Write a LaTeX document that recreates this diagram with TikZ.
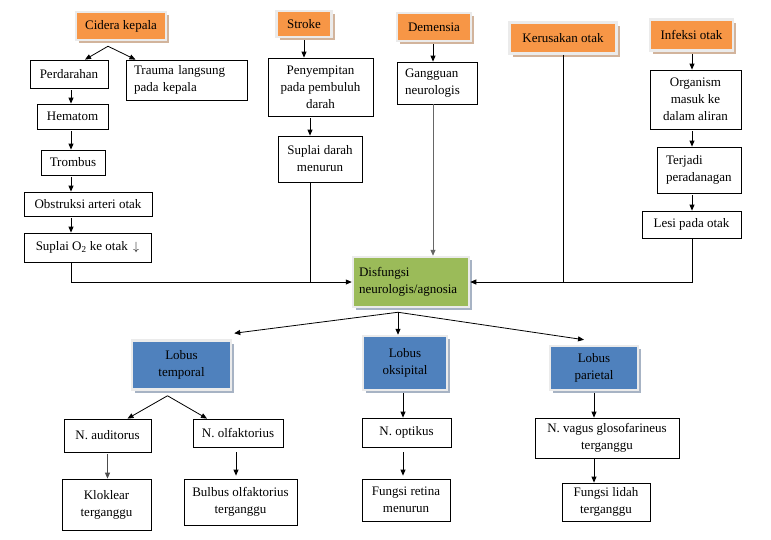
\documentclass[tikz,border=0pt]{standalone}
\usepackage{fontspec}
\setmainfont{Liberation Serif}
\usetikzlibrary{calc,arrows.meta,shadows}

\definecolor{oranye}{HTML}{F79646}
\definecolor{hijau}{HTML}{9BBB59}
\definecolor{biru}{HTML}{4F81BD}
\definecolor{bayangoranye}{HTML}{D2B49C}
\definecolor{bayangbiru}{HTML}{A7B3C4}

\begin{document}
\begin{tikzpicture}[x=1pt,y=-1pt,
 every node/.style={font=\fontsize{13}{17}\selectfont, inner sep=2pt},
 kotak/.style={draw, line width=0.8pt, align=center},
 warna/.style 2 args={fill=#1, draw=black!8, line width=2.5pt, align=center,
   drop shadow={shadow xshift=3pt,shadow yshift=-3pt,fill=#2,opacity=1}},
 panah/.style={-{Triangle[length=6pt,width=5pt]}, line width=0.8pt, shorten <=2pt},
 garis/.style={line width=0.8pt}]

\useasboundingbox (0,0) rectangle (771,539);

% sebab
\node[warna={oranye}{bayangoranye}, minimum width=90, minimum height=28] (cid) at (121,26) {Cidera kepala};
\node[warna={oranye}{bayangoranye}, minimum width=55, minimum height=26] (strk) at (304,24) {Stroke};
\node[warna={oranye}{bayangoranye}, minimum width=74, minimum height=28] (dem) at (434,27) {Demensia};
\node[warna={oranye}{bayangoranye}, minimum width=107, minimum height=31] (rus) at (563,38) {Kerusakan otak};
\node[warna={oranye}{bayangoranye}, minimum width=83, minimum height=31] (inf) at (691.5,35) {Infeksi otak};

% cidera kepala
\node[kotak, minimum width=78, minimum height=28] (perd) at (69,74) {Perdarahan};
\node[kotak, align=left, text width=105, inner xsep=8, minimum height=40] (trau) at (186.5,80)
 {Trauma langsung\\pada kepala};
\node[kotak, minimum width=71, minimum height=25] (hema) at (72.5,116.5) {Hematom};
\node[kotak, minimum width=64, minimum height=25] (trom) at (73,162.5) {Trombus};
\node[kotak, minimum width=128, minimum height=24] (obs) at (88,204) {Obstruksi arteri otak};
\node[kotak, minimum width=127, minimum height=29] (supO) at (87.5,247.5)
 {Suplai O\textsubscript{2} ke otak \,$\downarrow$};

% stroke
\node[kotak, minimum width=105, minimum height=58] (peny) at (320.5,87)
 {Penyempitan\\pada pembuluh\\darah};
\node[kotak, minimum width=84, minimum height=46] (supD) at (320,159) {Suplai darah\\menurun};

% demensia
\node[kotak, align=left, text width=64, inner xsep=8, minimum height=42] (gang) at (437,83)
 {Gangguan\\neurologis};

% infeksi
\node[kotak, minimum width=91, minimum height=59] (org) at (695.5,99.5) {Organism\\masuk ke\\dalam aliran};
\node[kotak, align=left, text width=66, inner xsep=9, minimum height=46] (terj) at (699,170)
 {Terjadi\\peradanagan};
\node[kotak, minimum width=99, minimum height=27] (lesi) at (691.5,224.5) {Lesi pada otak};

% tengah
\node[warna={hijau}{bayangbiru}, align=left, text width=104, inner xsep=6, minimum height=50] (dis) at (411,282)
 {Disfungsi\\neurologis/agnosia};

% lobus
\node[warna={biru}{bayangbiru}, minimum width=99, minimum height=49] (temp) at (181.5,365) {Lobus\\temporal};
\node[warna={biru}{bayangbiru}, minimum width=84, minimum height=54] (oks) at (405,363) {Lobus\\oksipital};
\node[warna={biru}{bayangbiru}, minimum width=88, minimum height=44] (par) at (594,368) {Lobus\\parietal};

% akibat
\node[kotak, minimum width=87, minimum height=33] (aud) at (107.5,435.5) {N. auditorus};
\node[kotak, minimum width=90, minimum height=28] (olf) at (238,433) {N. olfaktorius};
\node[kotak, minimum width=89, minimum height=51] (klo) at (106.5,504.5) {Kloklear\\terganggu};
\node[kotak, minimum width=113, minimum height=46] (bulb) at (240.5,502) {Bulbus olfaktorius\\terganggu};
\node[kotak, minimum width=89, minimum height=29] (opt) at (406.5,432.5) {N. optikus};
\node[kotak, minimum width=88, minimum height=42] (ret) at (406,500) {Fungsi retina\\menurun};
\node[kotak, minimum width=144, minimum height=40] (vag) at (607,438) {N. vagus glosofarineus\\terganggu};
\node[kotak, minimum width=88, minimum height=38] (lid) at (606,502) {Fungsi lidah\\terganggu};

% garis bantu
\coordinate (kiri) at (71,0);
\coordinate (tgh) at (310,0);
\coordinate (dmn) at (433,0);
\coordinate (knn) at (692,0);
\coordinate (okx) at (403,0);
\coordinate (cidB) at ($(cid.south)+(-13,5)$);
\coordinate (disB) at ($(dis.south)+(-13,4)$);
\coordinate (tmpB) at ($(temp.south)+(-14,5)$);

% cidera kepala
\draw[panah, shorten <=0pt] (cidB) -- ($(perd.north)+(16,0)$);
\draw[panah, shorten <=0pt] (cidB) -- ($(trau.north)+(-51,0)$);
\draw[panah] (kiri |- perd.south) -- (kiri |- hema.north);
\draw[panah] (kiri |- hema.south) -- (kiri |- trom.north);
\draw[panah] (kiri |- trom.south) -- (kiri |- obs.north);
\draw[panah] (kiri |- obs.south) -- (kiri |- supO.north);
\draw[panah, shorten <=0pt] (kiri |- supO.south) |- (dis.west);

% stroke
\draw[panah] (strk.south) -- (strk.south |- peny.north);
\draw[panah] (tgh |- peny.south) -- (tgh |- supD.north);
\draw[garis] (tgh |- supD.south) -- (tgh |- dis.west);

% demensia
\draw[panah] (dmn |- dem.south) -- (dmn |- gang.north);
\draw[panah, draw=black!60, shorten <=0pt] (dmn |- gang.south) -- (dmn |- dis.north);

% kerusakan + infeksi
\draw[garis] (rus.south) -- (rus.south |- dis.east);
\draw[panah] (knn |- inf.south) -- (knn |- org.north);
\draw[panah] (knn |- org.south) -- (knn |- terj.north);
\draw[panah] (knn |- terj.south) -- (knn |- lesi.north);
\draw[panah, shorten <=0pt] (knn |- lesi.south) |- (dis.east);

% lobus
\draw[panah, shorten <=0pt] (disB) -- ($(temp.north east)+(2,-6)$);
\draw[panah, shorten <=0pt] (disB) -- (disB |- oks.north);
\draw[panah, shorten <=0pt] (disB) -- ($(par.north)+(-10,-5)$);

% temporal
\draw[panah, shorten <=0pt] (tmpB) -- ($(aud.north)+(20,0)$);
\draw[panah, shorten <=0pt] (tmpB) -- ($(olf.north)+(-31,0)$);
\draw[panah, draw=black!70] (aud.south) -- (aud.south |- klo.north);
\draw[panah] ($(olf.south)+(-2,3)$) -- ($(olf.south |- bulb.north)+(-2,-3)$);

% oksipital
\draw[panah] (okx |- oks.south) -- (okx |- opt.north);
\draw[panah] ($(okx |- opt.south)+(0,3)$) -- ($(okx |- ret.north)+(0,-3)$);

% parietal
\draw[panah] (par.south) -- (par.south |- vag.north);
\draw[panah, shorten <=0pt] (par.south |- vag.south) -- (par.south |- lid.north);

\end{tikzpicture}
\end{document}
